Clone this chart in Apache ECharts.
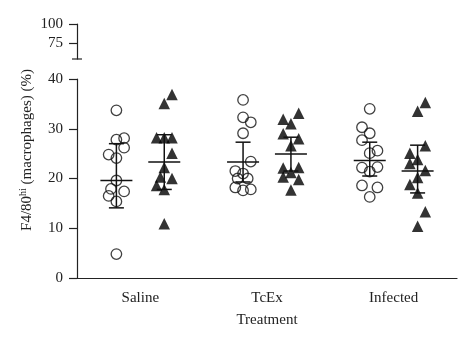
<!DOCTYPE html>
<html>
<head>
<meta charset="utf-8">
<script src="https://cdn.jsdelivr.net/npm/echarts@6/dist/echarts.min.js"></script>
<style>html,body{margin:0;padding:0;background:#fff;}#c{width:474px;height:346px;}</style>
</head>
<body>
<div id="c"></div>
<script>
const categories = ['Saline', 'TcEx', 'Infected'];

// Open circles (first group of each treatment)
const circleSaline   = [33.7, 28.1, 27.8, 26.2, 24.8, 24.1, 19.6, 17.9, 17.4, 16.5, 15.4, 4.8];
const circleTcEx     = [35.8, 32.3, 31.3, 29.1, 23.4, 21.5, 21.0, 20.0, 20.0, 18.2, 17.6, 17.8];
const circleInfected = [34.0, 30.3, 29.1, 27.7, 25.6, 25.1, 22.2, 22.3, 21.4, 18.6, 18.2, 16.3];
// Filled triangles (second group)
const triSaline   = [36.9, 35.1, 28.2, 28.2, 28.2, 25.1, 22.2, 20.3, 20.0, 18.6, 17.8, 10.9];
const triTcEx     = [33.1, 31.9, 31.0, 29.0, 28.0, 26.6, 22.1, 22.2, 21.2, 20.3, 19.8, 17.7];
const triInfected = [35.3, 33.5, 26.6, 25.1, 23.8, 23.0, 21.6, 20.2, 18.8, 17.1, 13.3, 10.4];

// Horizontal lane of each point in its column (-1 left, 0 centre, +1 right)
const laneCircleSaline   = [0, 1, 0, 1, -1, 0, 0, -0.7, 1, -1, 0, 0];
const laneCircleTcEx     = [0, 0, 1, 0, 1, -1, 0, -0.7, 0.6, -1, 0, 1];
const laneCircleInfected = [0, -1, 0, -1, 1, 0, -1, 1, 0, -1, 1, 0];
const laneTriSaline   = [1, 0, -1, 0, 1, 1, 0, -0.5, 1, -1, 0, 0];
const laneTriTcEx     = [1, -1, 0, -1, 1, 0, -1, 1, 0, -1, 1, 0];
const laneTriInfected = [1, 0, 1, -1, 0, -1, 1, 0, -1, 0, 1, 0];

// Error bars (centre line, lower, upper)
const circleCenter = [19.6, 23.3, 23.6];
const circleLower  = [14.1, 19.3, 20.5];
const circleUpper  = [27.0, 27.3, 27.3];
const triCenter = [23.3, 24.9, 21.5];
const triLower  = [17.8, 21.5, 17.1];
const triUpper  = [28.8, 28.3, 26.7];

const yTicksMain = [0, 10, 20, 30, 40];
const yTicksTop = [75, 100];

const SIDE = 0.189, LANE = 0.061;
function pts(vals, lanes, catIdx, side) {
  return vals.map((v, i) => [catIdx + 0.5 + side * SIDE + lanes[i] * LANE, v]);
}
const circleData = [].concat(
  pts(circleSaline, laneCircleSaline, 0, -1),
  pts(circleTcEx, laneCircleTcEx, 1, -1),
  pts(circleInfected, laneCircleInfected, 2, -1));
const triData = [].concat(
  pts(triSaline, laneTriSaline, 0, 1),
  pts(triTcEx, laneTriTcEx, 1, 1),
  pts(triInfected, laneTriInfected, 2, 1));
const errData = [];
for (let i = 0; i < 3; i++) {
  errData.push([i + 0.5 - SIDE, circleCenter[i], circleLower[i], circleUpper[i]]);
  errData.push([i + 0.5 + SIDE, triCenter[i], triLower[i], triUpper[i]]);
}

const FONT = 'Liberation Serif';
const AX = '#222';
const chart = echarts.init(document.getElementById('c'), null, {renderer: 'canvas'});
chart.setOption({
  animation: false,
  backgroundColor: '#fff',
  textStyle: {fontFamily: FONT, color: '#222'},
  grid: [
    {left: 77, right: 17, top: 79, bottom: 68, containLabel: false},
    {left: 77, right: 17, top: 24, height: 35, containLabel: false}
  ],
  xAxis: [
    {type: 'category', gridIndex: 0, data: categories, boundaryGap: true,
     axisLine: {lineStyle: {color: AX, width: 1.2}},
     axisTick: {alignWithLabel: true, length: 7, lineStyle: {color: AX, width: 1.2}},
     axisLabel: {fontFamily: FONT, fontSize: 15, color: '#222', margin: 13},
     name: 'Treatment', nameLocation: 'middle', nameGap: 35,
     nameTextStyle: {fontFamily: FONT, fontSize: 15, color: '#222'}},
    {type: 'value', gridIndex: 0, min: 0, max: 3, show: false},
    {type: 'value', gridIndex: 1, min: 0, max: 3, show: false}
  ],
  yAxis: [
    {type: 'value', gridIndex: 0, min: 0, max: 40, interval: 10,
     splitLine: {show: false},
     axisLine: {show: true, lineStyle: {color: AX, width: 1.2}},
     axisTick: {show: true, length: 8, lineStyle: {color: AX, width: 1.2}},
     axisLabel: {fontFamily: FONT, fontSize: 15, color: '#222', margin: 14}},
    {type: 'value', gridIndex: 1, min: 55, max: 100,
     splitLine: {show: false},
     axisLine: {show: true, lineStyle: {color: AX, width: 1.2}},
     axisTick: {show: true, length: 8, customValues: yTicksTop, lineStyle: {color: AX, width: 1.2}},
     axisLabel: {fontFamily: FONT, fontSize: 15, color: '#222', margin: 14, customValues: yTicksTop}}
  ],
  graphic: [
    {type: 'line', shape: {x1: 72, y1: 59, x2: 82, y2: 59}, style: {stroke: AX, lineWidth: 1.2}},
    {type: 'text', x: 27, y: 150, rotation: Math.PI / 2,
     style: {
       text: '{n|F4/80}{s|hi}{n| (macrophages) (%)}',
       align: 'center', verticalAlign: 'middle',
       rich: {
         n: {fontFamily: FONT, fontSize: 15, fill: '#222', lineHeight: 18},
         s: {fontFamily: FONT, fontSize: 10, fill: '#222', lineHeight: 10, verticalAlign: 'top'}
       }
     }}
  ],
  series: [
    {type: 'scatter', xAxisIndex: 1, yAxisIndex: 0, data: circleData,
     symbol: 'circle', symbolSize: 10.5,
     itemStyle: {color: 'rgba(0,0,0,0)', borderColor: '#111', borderWidth: 1.3},
     emphasis: {disabled: true}, z: 2},
    {type: 'scatter', xAxisIndex: 1, yAxisIndex: 0, data: triData,
     symbol: 'triangle', symbolSize: 11.5,
     itemStyle: {color: '#000'},
     emphasis: {disabled: true}, z: 2},
    {type: 'custom', xAxisIndex: 1, yAxisIndex: 0, data: errData, z: 3,
     renderItem: function (params, api) {
       const x = api.value(0);
       const c = api.coord([x, api.value(1)]);
       const lo = api.coord([x, api.value(2)]);
       const hi = api.coord([x, api.value(3)]);
       const st = {stroke: '#111', lineWidth: 1.5};
       return {type: 'group', children: [
         {type: 'line', shape: {x1: lo[0], y1: lo[1], x2: hi[0], y2: hi[1]}, style: st},
         {type: 'line', shape: {x1: c[0] - 16, y1: c[1], x2: c[0] + 16, y2: c[1]}, style: st},
         {type: 'line', shape: {x1: hi[0] - 7.5, y1: hi[1], x2: hi[0] + 7.5, y2: hi[1]}, style: st},
         {type: 'line', shape: {x1: lo[0] - 7.5, y1: lo[1], x2: lo[0] + 7.5, y2: lo[1]}, style: st}
       ]};
     }}
  ]
});
</script>
</body>
</html>
